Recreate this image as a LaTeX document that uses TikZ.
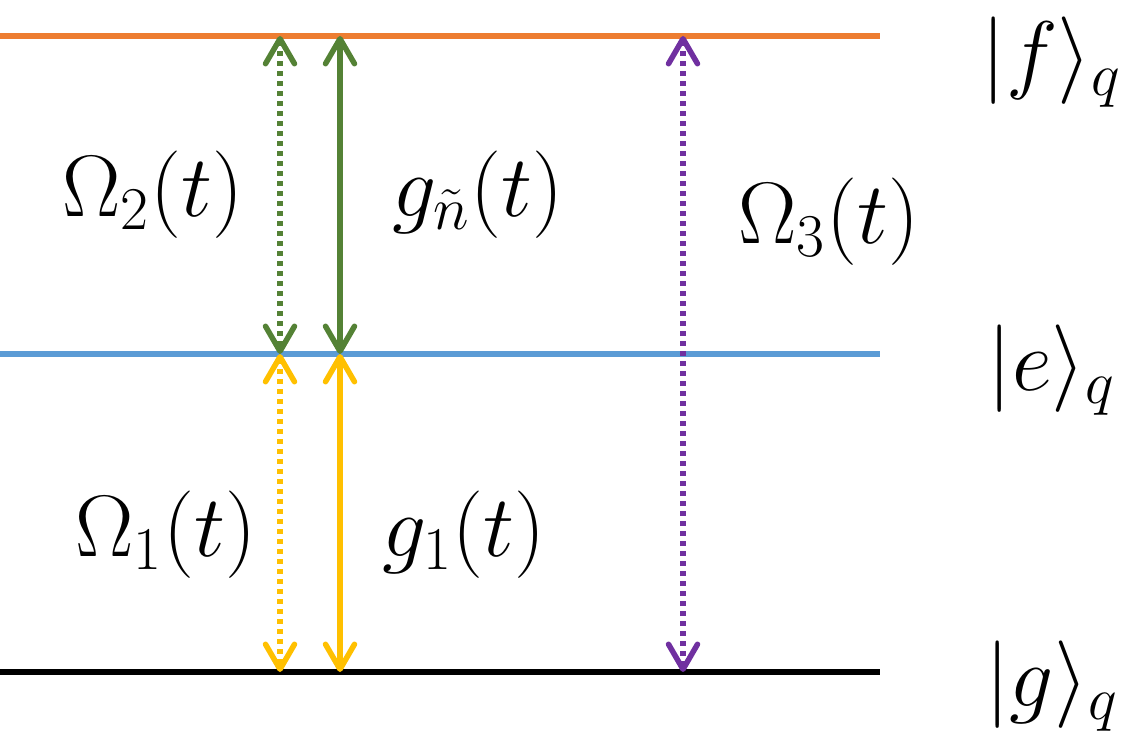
\documentclass[tikz,border=0pt]{standalone}
\usetikzlibrary{arrows.meta}
\definecolor{lvlf}{HTML}{ED7D31}
\definecolor{lvle}{HTML}{5B9BD5}
\definecolor{drvgreen}{HTML}{548235}
\definecolor{drvyellow}{HTML}{FFC000}
\definecolor{drvpurple}{HTML}{7030A0}
\begin{document}
\begin{tikzpicture}[x=0.1mm,y=-0.1mm,
  level/.style={line width=0.55mm},
  coupling/.style={{Straight Barb[length=2.5mm,width=2.9mm,round]}-{Straight Barb[length=2.5mm,width=2.9mm,round]},line width=0.55mm},
  drive/.style={coupling,dash pattern=on 0.5mm off 0.5mm},
  lab/.style={font=\fontsize{25}{29}\selectfont},
  ket/.style={font=\fontsize{24}{28}\selectfont}
]
  \useasboundingbox (0,0) rectangle (1125,733);
  % levels
  \coordinate (fL) at (0,36);   \coordinate (fR) at (880,36);
  \coordinate (eL) at (0,354);  \coordinate (eR) at (880,354);
  \coordinate (gL) at (0,672);  \coordinate (gR) at (880,672);
  \draw[level,lvlf] (fL) -- (fR);
  \draw[level,lvle] (eL) -- (eR);
  \draw[level,black] (gL) -- (gR);
  \node[ket] (kf) at (1052,62) {$|f\rangle_q$};
  \node[ket] (ke) at (1052,370) {$|e\rangle_q$};
  \node[ket] (kg) at (1052,686) {$|g\rangle_q$};

  % transitions
  \foreach \n/\x in {a/280,b/340,c/683}{
    \coordinate (f\n) at (\x,36);
    \coordinate (e\n) at (\x,354);
    \coordinate (g\n) at (\x,672);
  }
  \draw[drive,drvgreen] (fa) -- (ea);
  \draw[coupling,drvgreen] (fb) -- (eb);
  \draw[drive,drvyellow] (ea) -- (ga);
  \draw[coupling,drvyellow] (eb) -- (gb);
  \draw[drive,drvpurple] (fc) -- (gc);

  \node[lab] (om2) at (153,195) {$\Omega_2(t)$};
  \node[lab] (gn) at (478,195) {$g_{\tilde n}(t)$};
  \node[lab] (om3) at (829,222) {$\Omega_3(t)$};
  \node[lab] (om1) at (166,535) {$\Omega_1(t)$};
  \node[lab] (g1) at (464,535) {$g_1(t)$};
\end{tikzpicture}
\end{document}
